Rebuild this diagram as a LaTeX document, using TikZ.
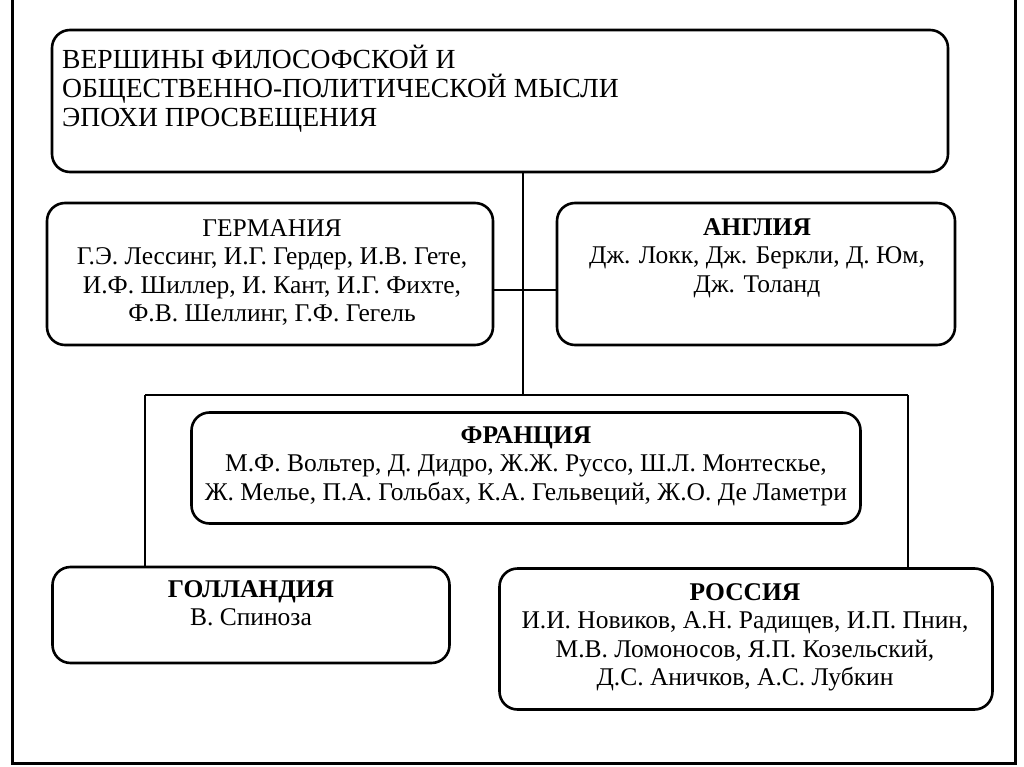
\documentclass[tikz,border=0pt]{standalone}
\usepackage{fontspec}
\setmainfont{Liberation Serif}
\newcommand{\firstline}{\rule{0pt}{24pt}}
\begin{document}
\begin{tikzpicture}[x=1pt,y=-1pt,
  box/.style={draw=black,line width=2.6pt,rounded corners=18pt,inner sep=0pt,fill=white},
  body/.style={inner sep=0pt,align=center,anchor=north,font=\fontsize{25.5}{28.5}\selectfont},
  link/.style={line width=2pt,draw=black}]
\useasboundingbox (0,0) rectangle (1024,767);
\fill[white] (0,0) rectangle (1024,767);
% outer frame
\draw[line width=3pt] (12,-20) -- (12,763) -- (1015,763) -- (1015,-20);
% boxes
\node[box,minimum width=896pt,minimum height=142pt] (top) at (500,101) {};
\node[box,minimum width=446pt,minimum height=142pt] (ger) at (270,274) {};
\node[box,minimum width=398pt,minimum height=142pt] (eng) at (756,274) {};
\node[box,minimum width=669pt,minimum height=111pt] (fra) at (526,468) {};
\node[box,minimum width=397pt,minimum height=96pt] (hol) at (251,615) {};
\node[box,minimum width=493pt,minimum height=141pt] (rus) at (746,639) {};
% connectors
\coordinate (tb) at (523,172);
\coordinate (hj) at (523,395);
\coordinate (hl) at (145,395);
\coordinate (hr) at (908,395);
\coordinate (gm) at (493,290);
\coordinate (em) at (557,290);
\draw[link] (tb) -- (hj);
\draw[link] (gm) -- (em);
\draw[link] (hl) -- (hr);
\draw[link] (hl) -- (hl |- hol.north);
\draw[link] (hr) -- (hr |- rus.north);
% texts (first-line baseline = anchor y + 24)
\node[inner sep=0pt,align=left,anchor=north west,font=\fontsize{27.6}{29}\selectfont] (toptxt) at (62,44)
  {\firstline ВЕРШИНЫ ФИЛОСОФСКОЙ И\\ОБЩЕСТВЕННО-ПОЛИТИЧЕСКОЙ МЫСЛИ\\ЭПОХИ ПРОСВЕЩЕНИЯ};
\node[body] (gertxt) at (272,212)
  {\firstline ГЕРМАНИЯ\\Г.Э. Лессинг, И.Г. Гердер, И.В. Гете,\\И.Ф. Шиллер, И. Кант, И.Г. Фихте,\\Ф.В. Шеллинг, Г.Ф. Гегель};
\node[body] (engtxt) at (757,211)
  {\firstline\textbf{АНГЛИЯ}\\Дж. Локк, Дж. Беркли, Д. Юм,\\Дж. Толанд};
\node[body] (fratxt) at (526,419)
  {\firstline\textbf{ФРАНЦИЯ}\\М.Ф. Вольтер, Д. Дидро, Ж.Ж. Руссо, Ш.Л. Монтескье,\\Ж. Мелье, П.А. Гольбах, К.А. Гельвеций, Ж.О. Де Ламетри};
\node[body] (holtxt) at (251,573)
  {\firstline\textbf{ГОЛЛАНДИЯ}\\В. Спиноза};
\node[body] (rustxt) at (745,576)
  {\firstline\textbf{РОССИЯ}\\И.И. Новиков, А.Н. Радищев, И.П. Пнин,\\М.В. Ломоносов, Я.П. Козельский,\\Д.С. Аничков, А.С. Лубкин};
\end{tikzpicture}
\end{document}
